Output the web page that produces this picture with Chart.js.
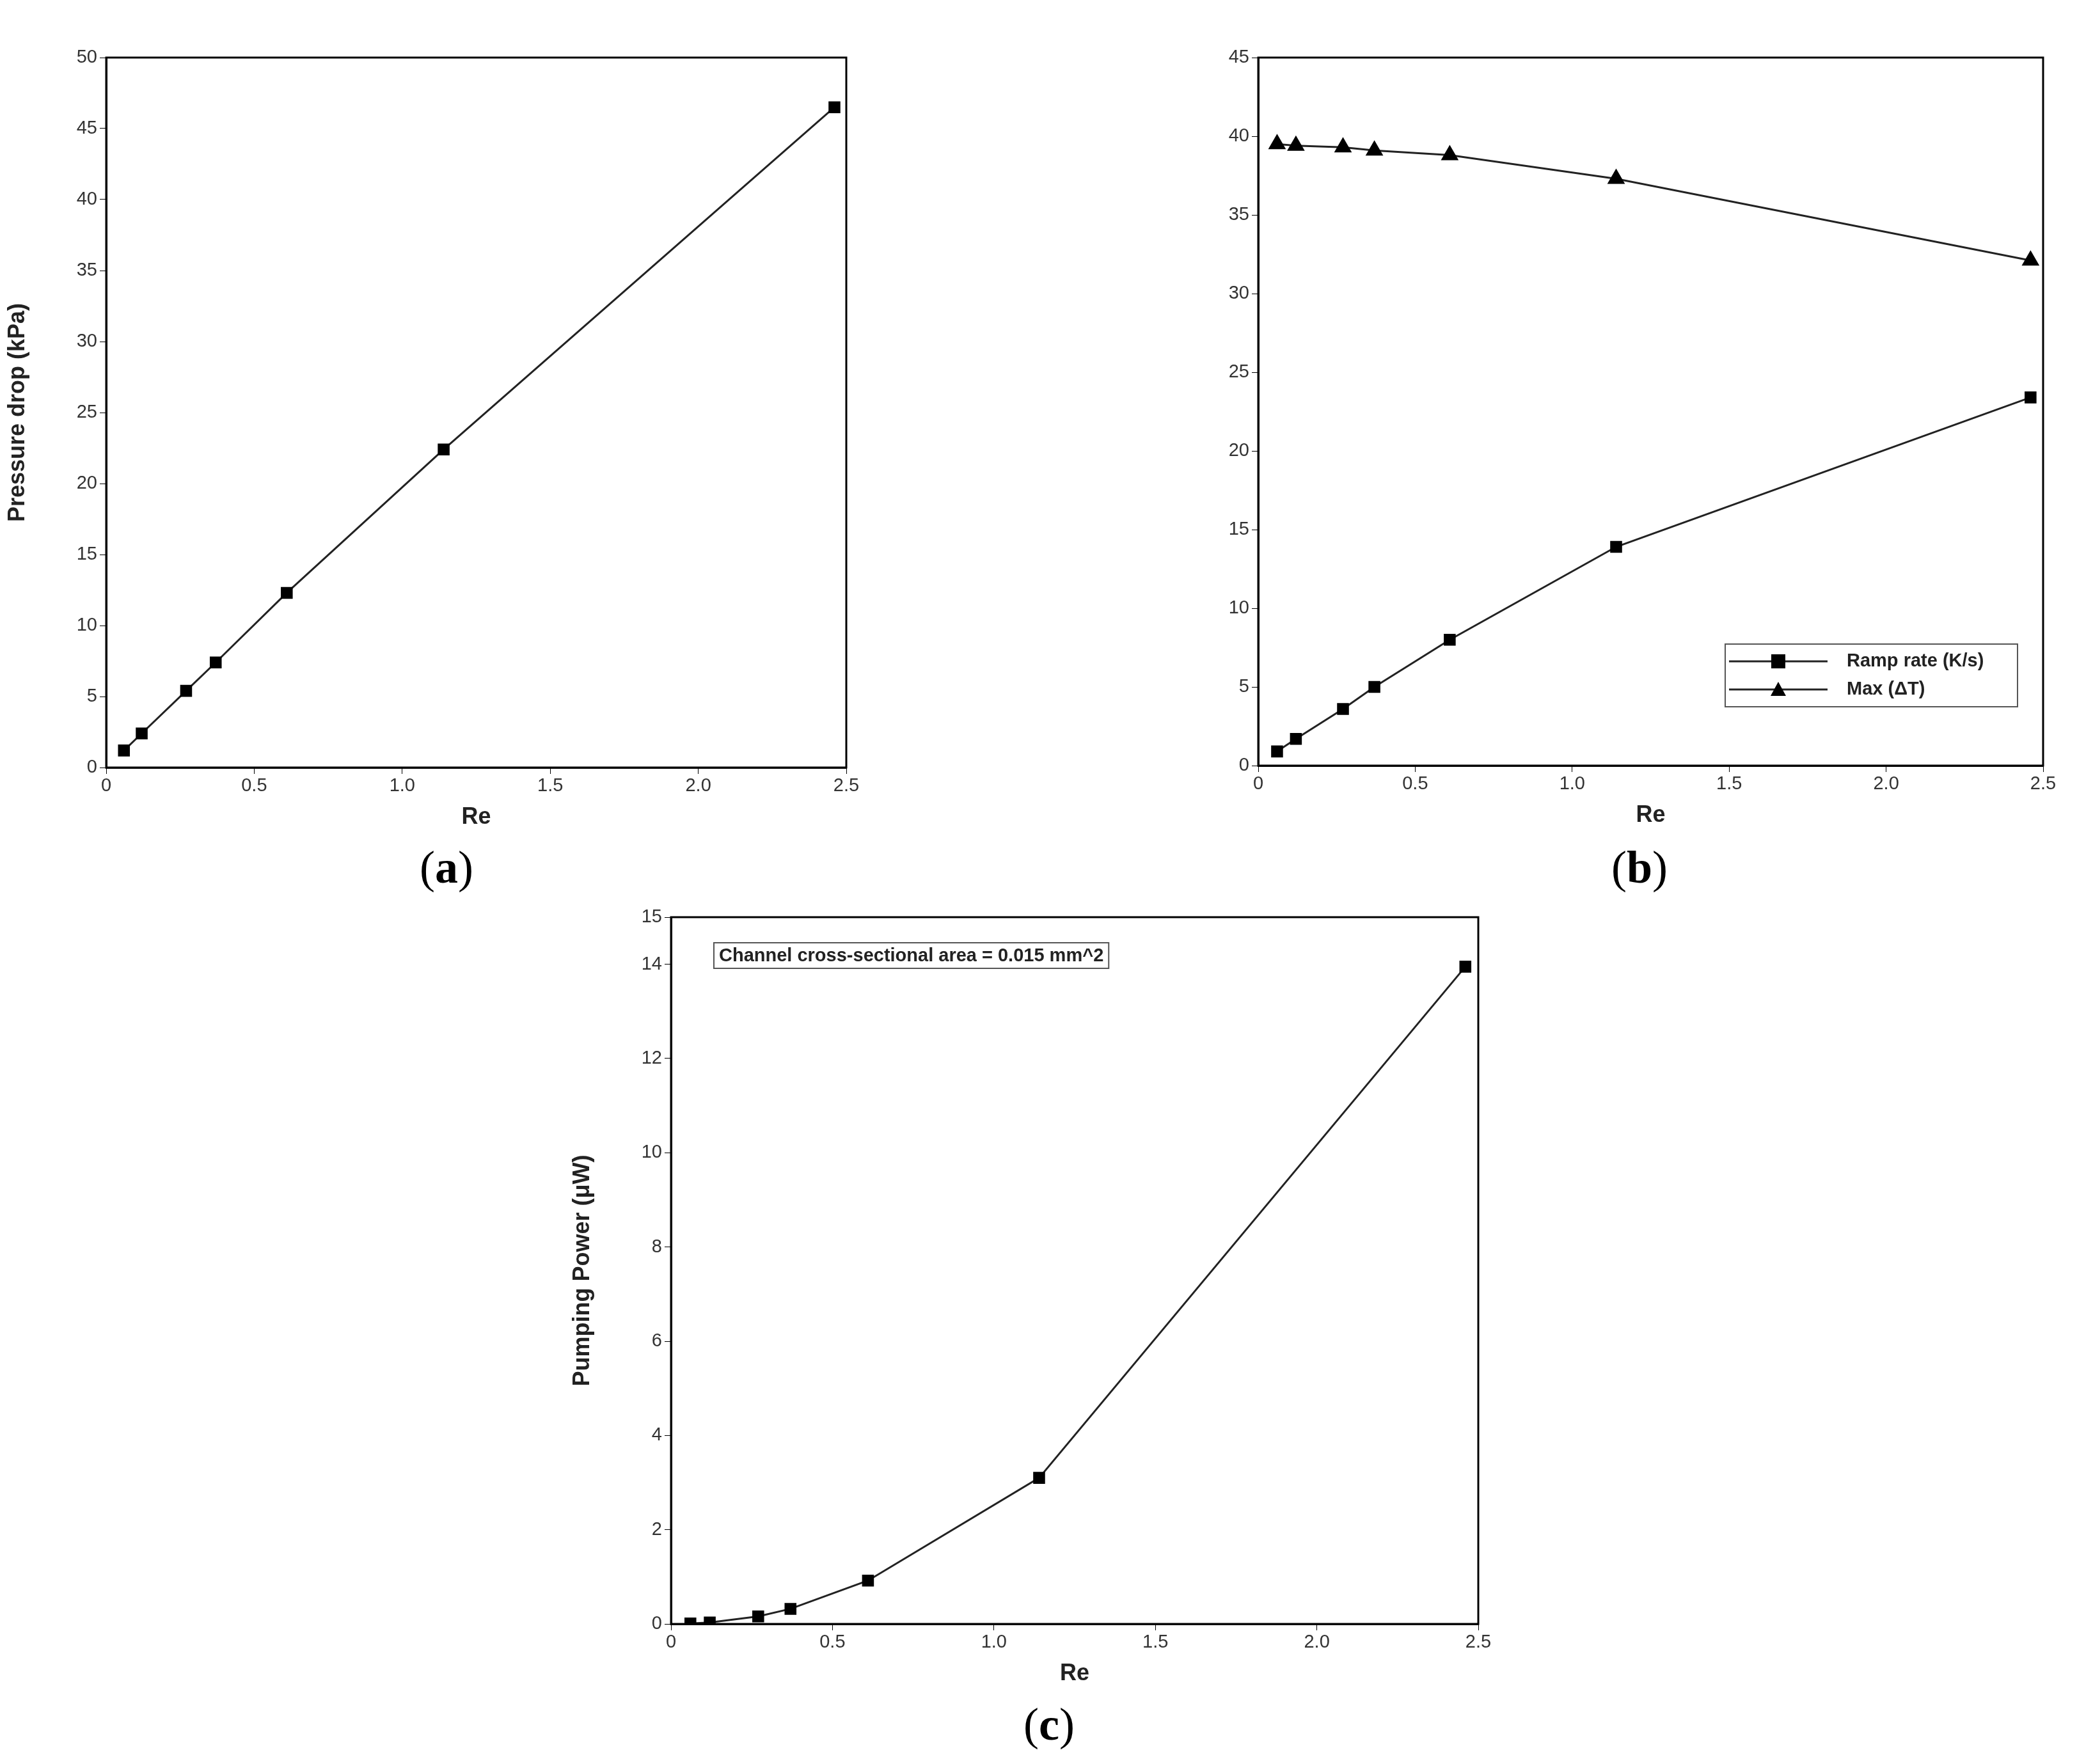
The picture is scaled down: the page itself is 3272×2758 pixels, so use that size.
<!DOCTYPE html>
<html>
<head>
<meta charset="utf-8">
<script src="https://cdn.jsdelivr.net/npm/chart.js@4.4.0/dist/chart.umd.min.js"></script>
<style>
  body { margin:0; width:3272px; height:2758px; background:#fff; position:relative; overflow:hidden; }
  .wrap { position:absolute; }
  .lbl { position:absolute; font-family:"Liberation Serif", serif; font-size:72px; color:#000; transform:translateX(-50%); }
  .lbl b { font-weight:bold; }
</style>
</head>
<body>
<div class="wrap" style="left:0px;top:60px;width:1360px;height:1240px"><canvas id="ca"></canvas></div>
<div class="wrap" style="left:1801px;top:60px;width:1430px;height:1240px"><canvas id="cb"></canvas></div>
<div class="wrap" style="left:883px;top:1404px;width:1465px;height:1235px"><canvas id="cc"></canvas></div>
<div class="lbl" style="left:698px;top:1315px">(<b>a</b>)</div>
<div class="lbl" style="left:2563px;top:1315px">(<b>b</b>)</div>
<div class="lbl" style="left:1640px;top:2655px">(<b>c</b>)</div>
<script>
let reValues = [0.06, 0.12, 0.27, 0.37, 0.61, 1.14, 2.46];
let pressureDrop = [1.2, 2.4, 5.4, 7.4, 12.3, 22.4, 46.5];
let rampRate = [0.9, 1.7, 3.6, 5.0, 8.0, 13.9, 23.4];
let maxDeltaT = [39.5, 39.4, 39.3, 39.1, 38.8, 37.3, 32.1];
let pumpingPower = [0.01, 0.03, 0.16, 0.32, 0.92, 3.1, 13.95];

const tickFont = { family: 'Liberation Sans', size: 29 };
const titleFont = { family: 'Liberation Sans', size: 36, weight: 'bold' };

function pts(ys){
  return reValues.map((x, i) => ({ x: x, y: ys[i] }));
}

function ds(label, ys, shape){
  return {
    label: label, data: pts(ys), borderColor: '#222', backgroundColor: '#000',
    borderWidth: 3, pointStyle: shape, pointRadius: shape == 'triangle' ? 13 : 11,
    pointBorderColor: '#000', tension: 0
  };
}

// box around the plot area plus optional legend / note
const boxPlugin = {
  id: 'box',
  afterDraw(chart, args, opts){
    const c = chart.ctx, a = chart.chartArea;
    c.save();
    c.strokeStyle = '#000'; c.lineWidth = 3;
    c.strokeRect(a.left, a.top, a.right - a.left, a.bottom - a.top);
    if (opts.note) {
      c.font = 'bold 29px Liberation Sans';
      let w = c.measureText(opts.note).width;
      c.fillStyle = '#fff'; c.lineWidth = 2; c.strokeStyle = '#555';
      c.fillRect(a.left + 67, a.top + 40, w + 16, 40);
      c.strokeRect(a.left + 67, a.top + 40, w + 16, 40);
      c.fillStyle = '#222'; c.textBaseline = 'middle';
      c.fillText(opts.note, a.left + 75, a.top + 61);
    }
    if (opts.legend) {
      let x0 = a.right - 497, y0 = a.top + 917;
      c.lineWidth = 2; c.strokeStyle = '#555';
      c.strokeRect(x0, y0, 457, 98);
      c.font = 'bold 29px Liberation Sans'; c.textBaseline = 'middle';
      chart.data.datasets.forEach((d, i) => {
        let y = y0 + 27 + i * 44;
        c.strokeStyle = '#222'; c.lineWidth = 3;
        c.beginPath(); c.moveTo(x0 + 6, y); c.lineTo(x0 + 160, y); c.stroke();
        c.fillStyle = '#000';
        if (d.pointStyle == 'triangle') {
          c.beginPath(); c.moveTo(x0 + 83, y - 12); c.lineTo(x0 + 95, y + 10); c.lineTo(x0 + 71, y + 10); c.fill();
        } else {
          c.fillRect(x0 + 72, y - 11, 22, 22);
        }
        c.fillStyle = '#222';
        c.fillText(d.label, x0 + 190, y);
      });
    }
    c.restore();
  }
};

function makeChart(id, datasets, yMax, yStep, yTitle, yWidth, pad, extra){
  return new Chart(document.getElementById(id), {
    type: 'line',
    data: { datasets: datasets },
    plugins: [boxPlugin],
    options: {
      responsive: true, maintainAspectRatio: false, animation: false,
      layout: { padding: pad },
      plugins: { legend: { display: false }, tooltip: { enabled: false }, box: extra || {} },
      scales: {
        x: {
          type: 'linear', min: 0, max: 2.5,
          ticks: { stepSize: 0.5, font: tickFont, color: '#333', maxRotation: 0, padding: 2 },
          grid: { drawOnChartArea: false, tickLength: 10, color: '#000' },
          border: { color: '#000', width: 3 },
          title: { display: true, text: 'Re', font: titleFont, color: '#222', padding: 0 },
          afterFit(s){ s.height = 100; }
        },
        y: {
          min: 0, max: yMax,
          ticks: { stepSize: yStep, font: tickFont, color: '#333', padding: 4 },
          grid: { drawOnChartArea: false, tickLength: 10, color: '#000' },
          border: { color: '#000', width: 3 },
          title: { display: true, text: yTitle, font: titleFont, color: '#222', padding: 6 },
          afterFit(s){ s.width = yWidth; }
        }
      }
    }
  });
}

makeChart('ca', [ds('Pressure drop', pressureDrop, 'rect')], 50, 5, 'Pressure drop (kPa)', 166,
  { top: 30, right: 37, left: 0, bottom: 0 });
makeChart('cb', [ds('Ramp rate (K/s)', rampRate, 'rect'), ds('Max (\u0394T)', maxDeltaT, 'triangle')],
  45, 5, '', 166, { top: 30, right: 37, left: 0, bottom: 3 }, { legend: true });
makeChart('cc', [ds('Pumping power', pumpingPower, 'rect')], 15, 2, 'Pumping Power (\u03BCW)', 166,
  { top: 30, right: 37, left: 0, bottom: 0 }, { note: 'Channel cross-sectional area = 0.015 mm^2' });
</script>
</body>
</html>
